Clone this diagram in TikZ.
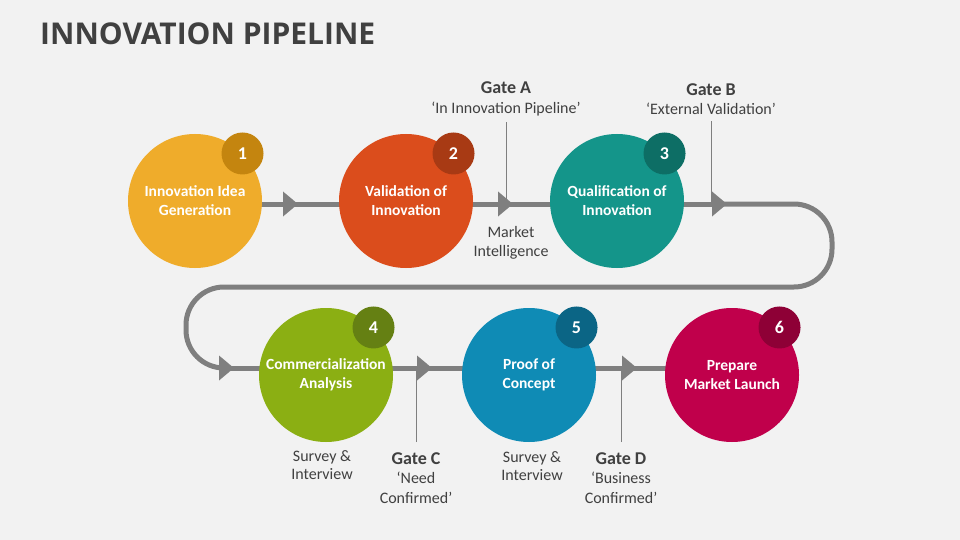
\documentclass[tikz,border=0pt]{standalone}
\usepackage{fontspec}
\setmainfont{Carlito}
\newfontfamily\titlefont{Open Sans}
\usetikzlibrary{positioning,arrows.meta,backgrounds}

\definecolor{bgcol}{HTML}{F2F2F2}
\definecolor{ink}{HTML}{404040}
\definecolor{pipecol}{HTML}{7F7F7F}
\definecolor{yellowfill}{HTML}{EFAC2B}
\definecolor{yellowdark}{HTML}{C4850F}
\definecolor{orangefill}{HTML}{DB4D1C}
\definecolor{orangedark}{HTML}{A83A14}
\definecolor{tealfill}{HTML}{14958A}
\definecolor{tealdark}{HTML}{0D6E65}
\definecolor{greenfill}{HTML}{8BAF13}
\definecolor{greendark}{HTML}{658013}
\definecolor{bluefill}{HTML}{0F8BB5}
\definecolor{bluedark}{HTML}{0B6585}
\definecolor{crimsonfill}{HTML}{C0004B}
\definecolor{crimsondark}{HTML}{8E0036}

\begin{document}
\begin{tikzpicture}[x=1pt,y=-1pt,
  stage node/.style={circle,minimum size=134pt,inner sep=0pt,text=white,align=center,
    font=\fontsize{15.5}{19}\selectfont\bfseries},
  badge node/.style={circle,minimum size=42pt,inner sep=0pt,text=white,
    font=\fontsize{18}{18}\selectfont\bfseries},
  gate label/.style={text=ink,align=center,font=\fontsize{16}{19.5}\selectfont},
  note label/.style={text=ink,align=center,font=\fontsize{16}{18.5}\selectfont},
  pipe/.style={color=pipecol,line width=5pt,-{Triangle[length=15pt,width=24pt]}},
  gate line/.style={draw=pipecol,line width=1pt}]
  \useasboundingbox (0,0) rectangle (960,540);

  \node[anchor=base west,inner sep=0pt,text=ink,
    font=\titlefont\bfseries\fontsize{30}{30}\selectfont] (title) at (40,45) {INNOVATION PIPELINE};

  % stages
  \node[stage node,fill=yellowfill] (s1) at (195,201) {Innovation Idea\\Generation};
  \node[stage node,fill=orangefill] (s2) [node distance=211pt,right of=s1] {Validation of\\Innovation};
  \node[stage node,fill=tealfill] (s3) [node distance=211pt,right of=s2] {Qualification of\\Innovation};
  \node[stage node,fill=greenfill] (s4) at (326,375) {Commercialization\\Analysis};
  \node[stage node,fill=bluefill] (s5) [node distance=203pt,right of=s4] {Proof of\\Concept};
  \node[stage node,fill=crimsonfill] (s6) [node distance=203pt,right of=s5] {Prepare\\Market Launch};

  \node[badge node,fill=yellowdark] (b1) at (s1.north east) {1};
  \node[badge node,fill=orangedark] (b2) at (s2.north east) {2};
  \node[badge node,fill=tealdark] (b3) at (s3.north east) {3};
  \node[badge node,fill=greendark] (b4) at (s4.north east) {4};
  \node[badge node,fill=bluedark] (b5) at (s5.north east) {5};
  \node[badge node,fill=crimsondark] (b6) at (s6.north east) {6};

  % gates and notes
  \node[gate label] (gA) at (506,99) {\textbf{\fontsize{18}{19.5}\selectfont Gate A}\\‘In Innovation Pipeline’};
  \node[gate label] (gB) at (711,99) {\textbf{\fontsize{18}{19.5}\selectfont Gate B}\\‘External Validation’};
  \node[gate label] (gC) at (416,478) {\textbf{\fontsize{18}{19.5}\selectfont Gate C}\\‘Need\\Confirmed’};
  \node[gate label] (gD) at (621,478) {\textbf{\fontsize{18}{19.5}\selectfont Gate D}\\‘Business\\Confirmed’};
  \node[note label] (mi) at (511,243) {Market\\Intelligence};
  \node[note label] (si1) at (322,465) {Survey \&\\Interview};
  \node[note label] (si2) at (532,466) {Survey \&\\Interview};

  \coordinate (t1) at (298,204);
  \coordinate (tA) at (513,204);
  \coordinate (tB) at (727,204);
  \coordinate (r1) at (832,204);
  \coordinate (r2) at (832,287);
  \coordinate (l1) at (186,287);
  \coordinate (l2) at (186,368);
  \coordinate (t4) at (234,368);
  \coordinate (tC) at (432,368);
  \coordinate (tD) at (637,368);

  \begin{scope}[on background layer]
    \fill[bgcol] (0,0) rectangle (960,540);
    \draw[gate line] ([yshift=-3pt]gA.south) -- (gA.south |- tA);
    \draw[gate line] ([yshift=-3pt]gB.south) -- (gB.south |- tB);
    \draw[gate line] ([yshift=7pt]gC.north) -- (gC.north |- tC);
    \draw[gate line] ([yshift=7pt]gD.north) -- (gD.north |- tD);
    \draw[pipe] (s1 |- t1) -- (t1);
    \draw[pipe,shorten <=-4pt] (t1) -- (tA);
    \draw[pipe,shorten <=-4pt] (tA) -- (tB);
    \draw[pipe,shorten <=-4pt,rounded corners=38pt] (tB) -- (r1) -- (r2) -- (l1) -- (l2) -- (t4);
    \draw[pipe,shorten <=-4pt] (t4) -- (tC);
    \draw[pipe,shorten <=-4pt] (tC) -- (tD);
    \draw[pipe,-,shorten <=-4pt] (tD) -- (s6 |- tD);
  \end{scope}
\end{tikzpicture}
\end{document}
